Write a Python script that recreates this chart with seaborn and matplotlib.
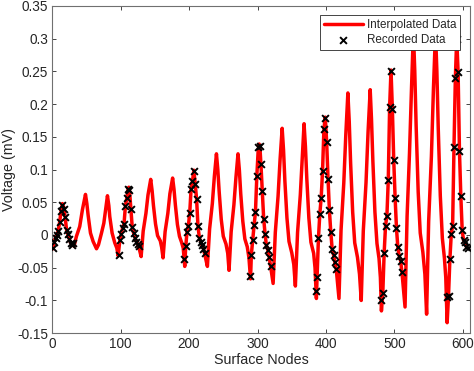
import matplotlib
matplotlib.use('Agg')
import matplotlib.pyplot as plt
import seaborn as sns

# Interpolated curve
line_x = [0, 1, 3, 5, 7, 9, 11, 13, 15, 17, 19, 21, 23, 25, 27, 29, 32,
          35.5, 40.3, 44.3, 48.7, 50.7, 52.6, 56.0, 59.9, 64.8, 67.7, 72.1, 75.5, 78.5, 80.8,
          82.8, 84.2, 87.6, 91.5, 94.5, 96.4,
          99, 101, 103, 105, 107, 109, 111, 112, 113, 115, 117, 119, 121, 123, 125, 127, 130,
          133, 137, 140, 144, 146, 148, 151, 154, 158, 160, 162,
          165, 169, 172, 176, 178, 180, 183, 186, 189, 191.5, 193.7,
          195, 197, 199, 201, 203, 205, 207, 209, 211, 213, 215, 217, 219, 221, 223, 226.8,
          230, 234, 237, 240, 242, 244, 247, 250, 254, 256.5, 258.4,
          261.5, 265.5, 268.5, 271.5, 273.5, 275.5, 278.5, 281.5, 285, 287.5, 289.8,
          291, 293, 295, 297, 299, 301, 302.4, 303.5, 305, 307, 309, 311, 313, 315, 317, 319, 322.8,
          326, 330, 333, 336, 338, 340, 343, 346, 350, 353, 355.3,
          358.5, 362.5, 365.5, 368, 370, 372, 375, 378, 382, 384, 386,
          387, 389, 391, 393, 395, 397, 399, 401, 403, 405, 407, 409, 411, 413, 415, 419,
          422, 426, 429, 432, 434, 436, 439, 442, 446, 449, 451.5,
          454.5, 458.5, 461.5, 464.6, 466.5, 468.5, 471.5, 474.5, 477.5, 479.5, 481,
          483, 485, 487, 489, 491, 493, 495, 497, 499, 501, 503, 505, 507, 509, 511, 515.5,
          518.5, 522, 525, 527.7, 529.7, 531.7, 534.7, 537.7, 541.5, 544.5, 547,
          550, 554, 557, 560, 562, 564, 567, 570, 573, 575, 577,
          579, 581, 583, 585, 587, 589, 591, 593, 595, 597, 599, 601, 603, 605]
line_y = [-0.022, -0.020, -0.010, -0.004, 0.000, 0.007, 0.020, 0.036, 0.048, 0.042, 0.028, 0.008, 0.001, -0.006, -0.012, -0.015, -0.017,
          -0.002, 0.013, 0.039, 0.062, 0.048, 0.030, 0.003, -0.010, -0.021, -0.015, 0.003, 0.018, 0.042, 0.060,
          0.045, 0.028, 0.003, -0.012, -0.020, -0.032,
          -0.007, 0.002, 0.011, 0.017, 0.044, 0.056, 0.071, 0.073, 0.068, 0.040, 0.012, 0.003, -0.004, -0.010, -0.014, -0.020, -0.033,
          0.006, 0.033, 0.061, 0.085, 0.068, 0.045, 0.017, -0.001, -0.009, -0.019, -0.035,
          0.005, 0.033, 0.063, 0.087, 0.070, 0.046, 0.016, -0.002, -0.011, -0.020, -0.048,
          -0.020, 0.005, 0.014, 0.034, 0.071, 0.082, 0.099, 0.078, 0.055, 0.014, -0.004, -0.010, -0.016, -0.021, -0.030, -0.048,
          0.009, 0.048, 0.090, 0.124, 0.100, 0.066, 0.024, -0.002, -0.014, -0.028, -0.054,
          0.005, 0.046, 0.088, 0.124, 0.099, 0.063, 0.021, -0.006, -0.018, -0.035, -0.067,
          -0.030, -0.007, 0.015, 0.035, 0.090, 0.130, 0.139, 0.134, 0.108, 0.067, 0.025, 0.002, -0.016, -0.023, -0.033, -0.047, -0.074,
          0.004, 0.059, 0.116, 0.163, 0.130, 0.082, 0.026, -0.010, -0.027, -0.045, -0.078,
          0.004, 0.061, 0.120, 0.170, 0.135, 0.086, 0.026, -0.011, -0.028, -0.050, -0.097,
          -0.064, -0.005, 0.032, 0.057, 0.098, 0.162, 0.180, 0.142, 0.086, 0.038, 0.005, -0.021, -0.030, -0.042, -0.052, -0.097,
          0.007, 0.079, 0.154, 0.217, 0.173, 0.110, 0.035, -0.012, -0.034, -0.060, -0.100,
          0.006, 0.080, 0.158, 0.222, 0.177, 0.113, 0.035, -0.013, -0.036, -0.065, -0.116,
          -0.089, -0.027, 0.014, 0.029, 0.084, 0.196, 0.252, 0.192, 0.114, 0.057, 0.010, -0.019, -0.032, -0.039, -0.057, -0.110,
          0.029, 0.125, 0.226, 0.310, 0.251, 0.167, 0.066, 0.003, -0.026, -0.060, -0.121,
          0.021, 0.120, 0.224, 0.310, 0.250, 0.163, 0.060, -0.005, -0.035, -0.065, -0.134,
          -0.093, -0.037, 0.001, 0.014, 0.134, 0.240, 0.300, 0.249, 0.128, 0.059, 0.007, -0.008, -0.010, -0.018]

# Recorded nodes
rec_x = [1, 3, 5, 7, 9, 11, 13, 15, 17, 19, 21, 23, 25, 27, 29, 31,
         97, 99, 101, 103, 105, 107, 109, 111, 113, 115, 117, 119, 121, 123, 125, 127,
         193, 195, 197, 199, 201, 203, 205, 207, 209, 211, 213, 215, 217, 219, 221, 223,
         289, 291, 293, 295, 297, 299, 301, 303, 305, 307, 309, 311, 313, 315, 317, 319,
         385, 387, 389, 391, 393, 395, 397, 399, 401, 403, 405, 407, 409, 411, 413, 415,
         481, 483, 485, 487, 489, 491, 493, 495, 497, 499, 501, 503, 505, 507, 509, 511,
         577, 579, 581, 583, 585, 587, 589, 591, 593, 595, 597, 599, 601, 603, 605, 607]
rec_y = [-0.020, -0.010, -0.004, 0.000, 0.006, 0.020, 0.036, 0.046, 0.040, 0.028, 0.008, 0.002, -0.006, -0.012, -0.016, -0.013,
         -0.031, -0.007, 0.002, 0.011, 0.017, 0.044, 0.056, 0.071, 0.068, 0.040, 0.012, 0.003, -0.004, -0.010, -0.014, -0.017,
         -0.037, -0.017, 0.005, 0.014, 0.034, 0.071, 0.082, 0.098, 0.078, 0.055, 0.014, -0.004, -0.010, -0.016, -0.021, -0.027,
         -0.062, -0.030, -0.007, 0.015, 0.035, 0.090, 0.134, 0.136, 0.108, 0.067, 0.025, 0.002, -0.016, -0.023, -0.033, -0.047,
         -0.085, -0.064, -0.005, 0.032, 0.057, 0.098, 0.162, 0.179, 0.142, 0.086, 0.038, 0.005, -0.021, -0.030, -0.042, -0.052,
         -0.0995, -0.089, -0.027, 0.014, 0.029, 0.084, 0.196, 0.250, 0.192, 0.114, 0.057, 0.010, -0.019, -0.032, -0.039, -0.057,
         -0.095, -0.093, -0.037, 0.001, 0.014, 0.134, 0.240, 0.300, 0.249, 0.128, 0.059, 0.007, -0.008, -0.010, -0.018, -0.020]

xticks = [0, 100, 200, 300, 400, 500, 600]
yticks = [-0.15, -0.1, -0.05, 0, 0.05, 0.1, 0.15, 0.2, 0.25, 0.3, 0.35]
ytick_labels = ['-0.15', '-0.1', '-0.05', '0', '0.05', '0.1', '0.15', '0.2', '0.25', '0.3', '0.35']

sns.set_style('white')
plt.rcParams['font.family'] = ['Liberation Sans', 'DejaVu Sans']

fig = plt.figure(figsize=(4.74, 3.71), dpi=100)
ax = fig.add_axes([0.110, 0.102, 0.881, 0.882])

sns.lineplot(x=line_x, y=line_y, sort=False, color='#ff0000', linewidth=2.5,
             label='Interpolated Data', ax=ax, zorder=2)
sns.scatterplot(x=rec_x, y=rec_y, marker='x', color='black', s=24, linewidth=1.4,
                label='Recorded Data', ax=ax, zorder=3)

ax.set_xlim(0, 610)
ax.set_ylim(-0.15, 0.35)
ax.set_xticks(xticks)
ax.set_yticks(yticks)
ax.set_yticklabels(ytick_labels)
ax.tick_params(direction='in', length=3, width=0.6, colors='#262626', labelsize=9.8,
               top=True, right=True, bottom=True, left=True, pad=3)
for s in ax.spines.values():
    s.set_color('#707070')
    s.set_linewidth(0.8)
ax.set_xlabel('Surface Nodes', fontsize=10.3, color='#262626', labelpad=1)
ax.set_ylabel('Voltage (mV)', fontsize=10.3, color='#262626', labelpad=1)

leg = ax.legend(loc='upper right', fontsize=8.4, fancybox=False, framealpha=1,
                edgecolor='#262626', borderaxespad=0.8, handlelength=3.4,
                borderpad=0.3, labelspacing=0.3, handletextpad=0.35)
leg.get_frame().set_linewidth(0.6)

plt.savefig('out.png', dpi=100)
